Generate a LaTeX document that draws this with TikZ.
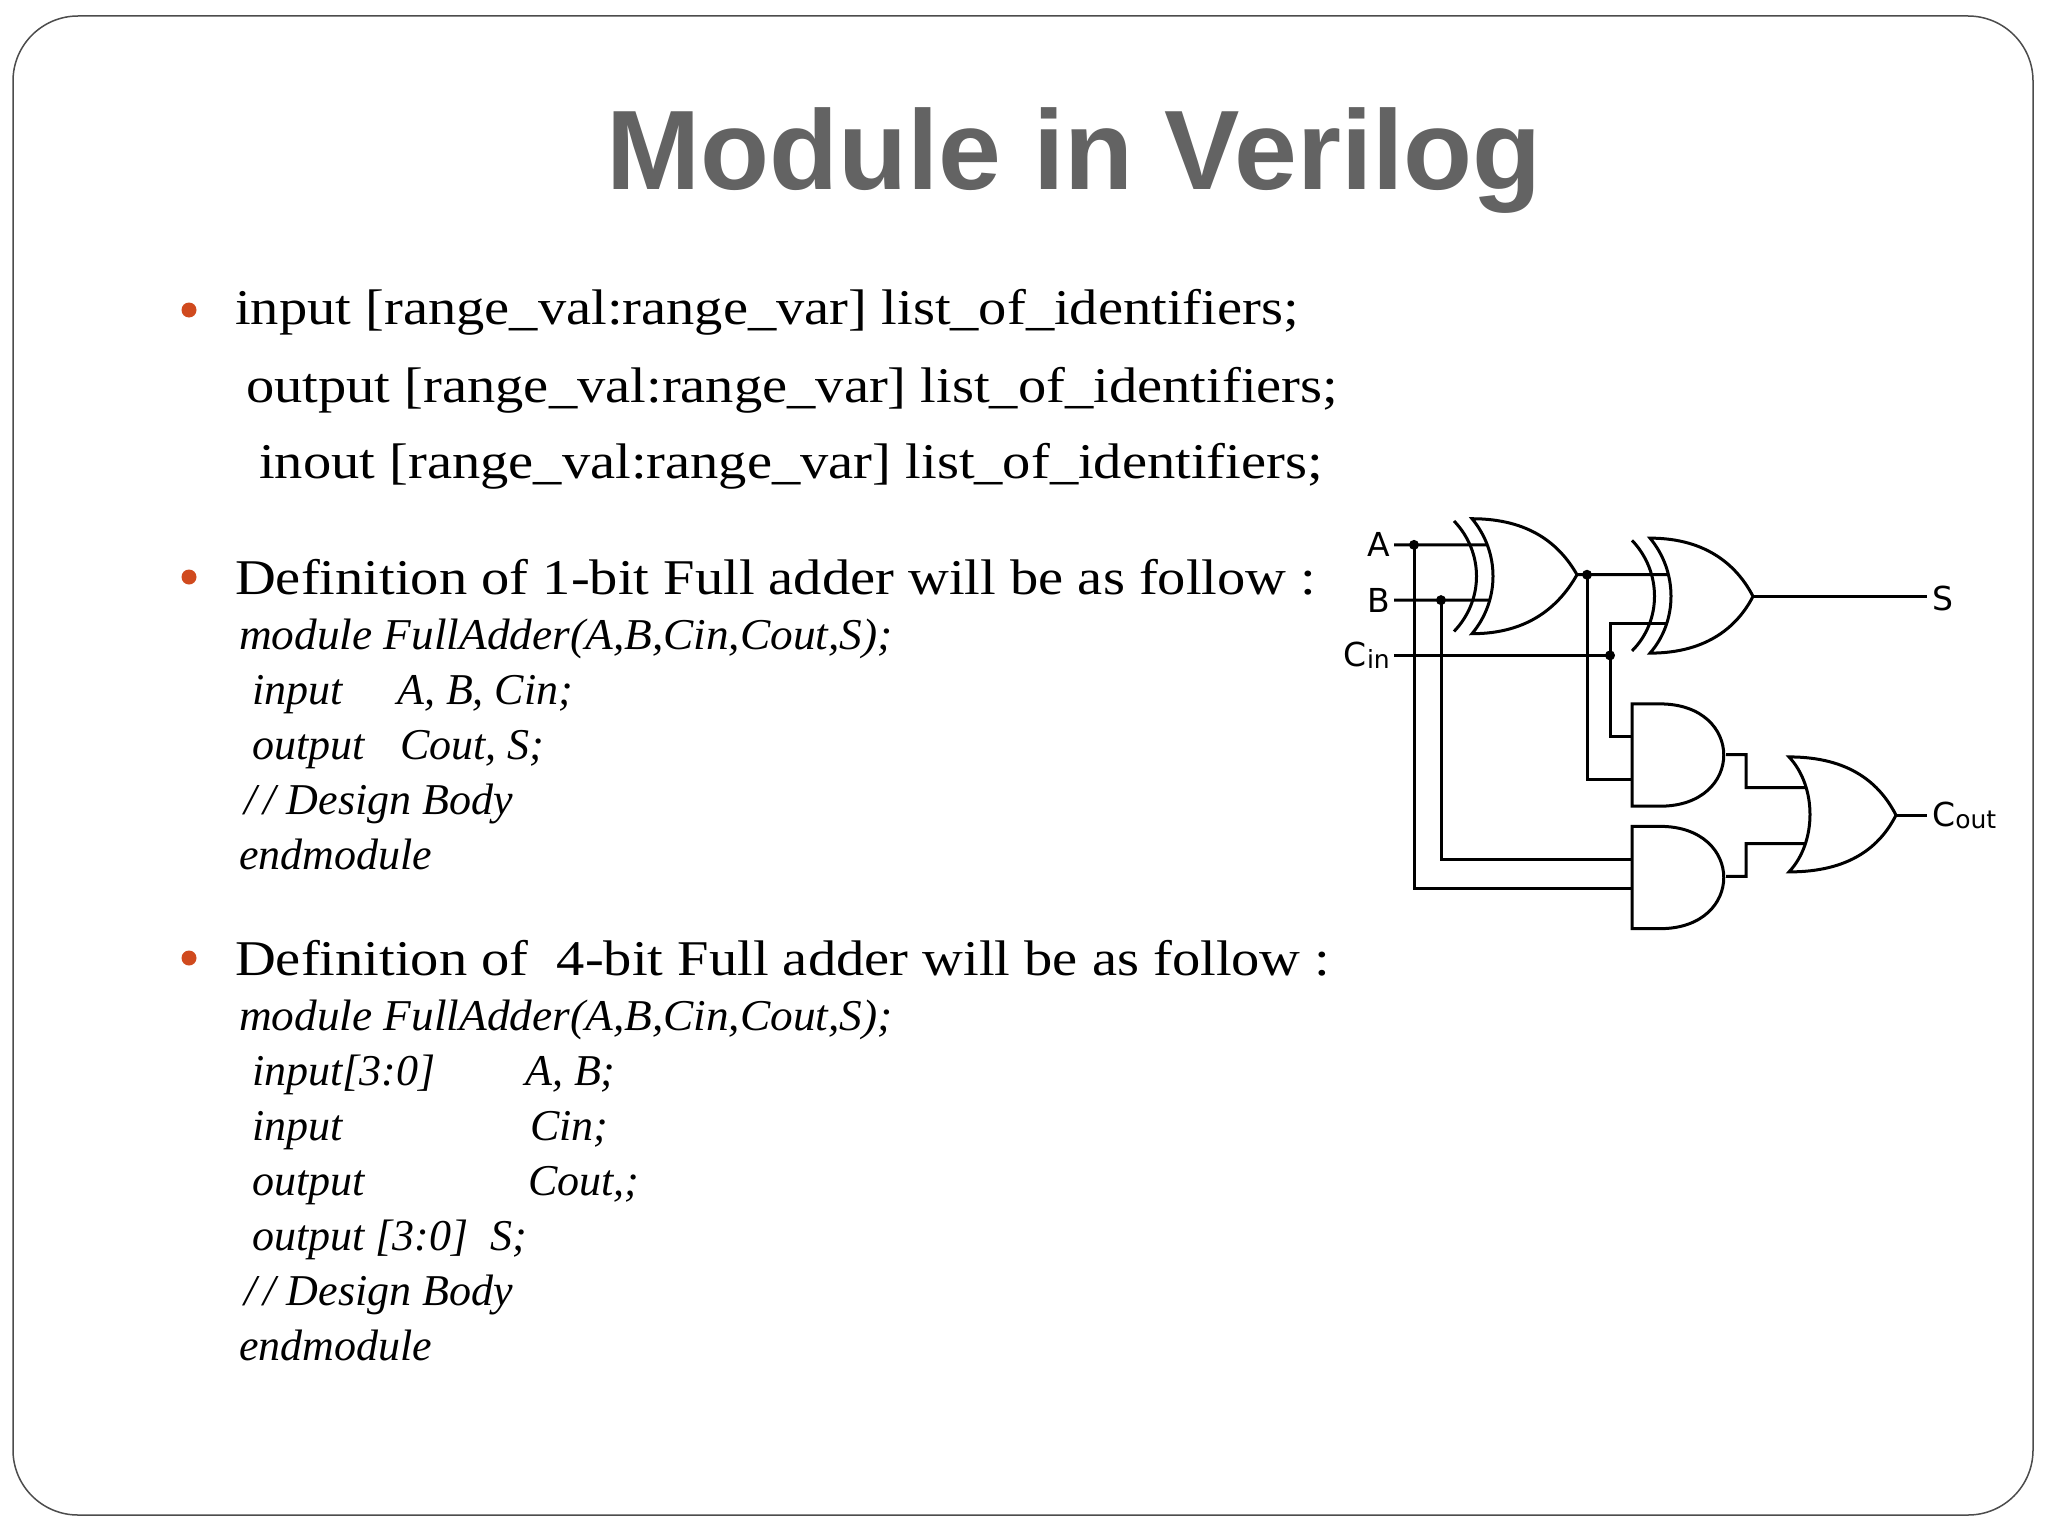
\documentclass[tikz,border=0pt]{standalone}
\usepackage{fontspec}
\setmainfont{Liberation Serif}
\newfontfamily\titlefont{Liberation Sans}
\newfontfamily\labfont{DejaVu Sans}
\definecolor{bul}{HTML}{D04A1E}
\definecolor{ttl}{HTML}{636363}
\newcommand{\bx}[1]{\scalebox{1.13}[1]{#1}}
\newcommand{\cx}[1]{\scalebox{1.03}[1]{#1}}
\begin{document}
\begin{tikzpicture}[x=1pt,y=-1pt,
  wire/.style={line width=3pt,line join=miter},
  gate/.style={line width=3pt,fill=white},
  dotc/.style={circle,fill=black,inner sep=0pt,minimum size=10pt},
  lab/.style={font=\labfont\fontsize{33}{35}\selectfont,inner sep=0pt},
  body/.style={anchor=base west,inner sep=0pt,font=\fontsize{50}{52}\selectfont},
  code/.style={anchor=base west,inner sep=0pt,font=\itshape\fontsize{44}{48}\selectfont},
  bullet/.style={circle,fill=bul,inner sep=0pt,minimum size=15pt}]
\useasboundingbox (0,0) rectangle (2048,1536);
\fill[white] (0,0) rectangle (2048,1536);
\draw[line width=1.5pt,black!70,rounded corners=65pt] (13,16) rectangle (2033,1515);
\node[font=\titlefont\bfseries\fontsize{113}{116}\selectfont,text=ttl] (title) at (1074,161) {Module in Verilog};
% bullets
\node[bullet] (b1) at (189,310) {};
\node[bullet] (b2) at (189,577) {};
\node[bullet] (b3) at (189,958) {};
\node[body] (t1) at (235,324) {\bx{input [range\_val:range\_var] list\_of\_identifiers;}};
\node[body] (t2) at (246,402) {\bx{output [range\_val:range\_var] list\_of\_identifiers;}};
\node[body] (t3) at (259,478) {\bx{inout [range\_val:range\_var] list\_of\_identifiers;}};
\node[body] (t4) at (235,594) {\bx{Definition of 1-bit Full adder will be as follow :}};
\node[code] (c1) at (239,649) {\cx{module FullAdder(A,B,Cin,Cout,S);}};
\node[code] (c2) at (252,704) {input};
\node[code] (c2b) at (397,704) {A, B, Cin;};
\node[code] (c3) at (252,759) {output};
\node[code] (c3b) at (400,759) {Cout, S;};
\node[code] (c4) at (244,814) {/\,/ Design Body};
\node[code] (c5) at (239,869) {endmodule};
\node[body] (t5) at (235,975) {\bx{Definition of\ \ 4-bit Full adder will be as follow :}};
\node[code] (d1) at (239,1030) {\cx{module FullAdder(A,B,Cin,Cout,S);}};
\node[code] (d2) at (252,1085) {input[3:0]};
\node[code] (d2b) at (525,1085) {A, B;};
\node[code] (d3) at (252,1140) {input};
\node[code] (d3b) at (530,1140) {Cin;};
\node[code] (d4) at (252,1195) {output};
\node[code] (d4b) at (528,1195) {Cout,;};
\node[code] (d5) at (252,1250) {output [3:0]\ \ S;};
\node[code] (d6) at (244,1305) {/\,/ Design Body};
\node[code] (d7) at (239,1360) {endmodule};
\begin{scope}[shift={(0,126.7)},yscale=0.7467]
% circuit labels
\node[lab,anchor=east] (lA) at (1390,560) {A};
\node[lab,anchor=east] (lB) at (1390,634) {B};
\node[lab,anchor=east] (lC) at (1390,708) {C\raisebox{-2pt}{\fontsize{25}{27}\selectfont in}};
\node[lab,anchor=west] (lS) at (1932,632) {S};
\node[lab,anchor=west] (lCo) at (1932,922) {C\raisebox{-2pt}{\fontsize{25}{27}\selectfont out}};
% coordinates
\coordinate (A0) at (1394,560); \coordinate (B0) at (1394,634); \coordinate (C0) at (1394,708);
\coordinate (dA) at (1414,560); \coordinate (dB) at (1441,634);
\coordinate (x1o) at (1577,600); \coordinate (dX) at (1587,600);
\coordinate (dC) at (1610,708);
\coordinate (x2o) at (1753,629);
\coordinate (a1o) at (1726,841); \coordinate (a2o) at (1726,1004);
\coordinate (oo) at (1896,922);
\coordinate (So) at (1927,629); \coordinate (Co) at (1927,922);
% wires
\draw[wire] (A0) -- (1490,560);
\draw[wire] (B0) -- (1490,634);
\draw[wire] (C0) -- (dC);
\draw[wire] (x1o) -- (1668,600);
\draw[wire] (dC) -- (1610,665) -- (1668,665);
\draw[wire] (dC) -- (1610,816) -- (1640,816);
\draw[wire] (dX) -- (1587,874) -- (1640,874);
\draw[wire] (dB) -- (1441,981) -- (1640,981);
\draw[wire] (dA) -- (1414,1020) -- (1640,1020);
\draw[wire] (a1o) -- (1746,841) -- (1746,885) -- (1805,885);
\draw[wire] (a2o) -- (1746,1004) -- (1746,960) -- (1805,960);
\draw[wire] (x2o) -- (So);
\draw[wire] (oo) -- (Co);
% gates
\draw[gate] (1472,525) .. controls (1500,570) and (1500,634) .. (1472,679)
  .. controls (1530,679) and (1560,640) .. (1577,600)
  .. controls (1560,560) and (1530,525) .. (1472,525) -- cycle;
\draw[wire] (1454,528) .. controls (1484,570) and (1484,634) .. (1454,676);
\draw[gate] (1650,551) .. controls (1678,596) and (1678,662) .. (1650,705)
  .. controls (1708,705) and (1738,668) .. (1753,629)
  .. controls (1738,590) and (1708,551) .. (1650,551) -- cycle;
\draw[wire] (1632,554) .. controls (1662,596) and (1662,662) .. (1632,702);
\draw[gate] (1632,773) -- (1660,773) .. controls (1745,773) and (1745,910) .. (1660,910) -- (1632,910) -- cycle;
\draw[gate] (1632,937) -- (1660,937) .. controls (1745,937) and (1745,1074) .. (1660,1074) -- (1632,1074) -- cycle;
\draw[gate] (1789,844) .. controls (1817,884) and (1817,958) .. (1789,998)
  .. controls (1850,998) and (1880,964) .. (1896,922)
  .. controls (1880,880) and (1850,844) .. (1789,844) -- cycle;
\foreach \p in {dA,dB,dX,dC} \node[dotc] at (\p) {};
\end{scope}
\end{tikzpicture}
\end{document}
